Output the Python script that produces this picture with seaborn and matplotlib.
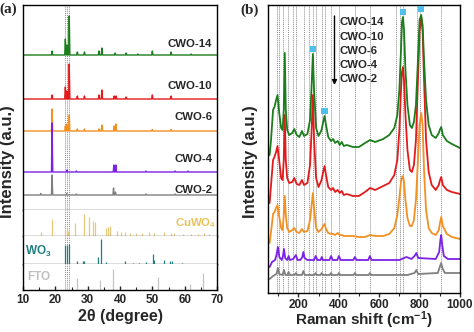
import numpy as np
import matplotlib
matplotlib.use("Agg")
import matplotlib.pyplot as plt
import seaborn as sns

sns.set_style("ticks")
plt.rcParams['font.family'] = ['Liberation Sans', 'DejaVu Sans']
plt.rcParams['font.weight'] = 'bold'
plt.rcParams['mathtext.fontset'] = 'custom'
plt.rcParams['mathtext.rm'] = 'Liberation Sans:bold'
plt.rcParams['mathtext.bf'] = 'Liberation Sans:bold'
plt.rcParams['mathtext.it'] = 'Liberation Sans:bold'
plt.rcParams['mathtext.default'] = 'rm'

# ---------------- Panel (a): XRD data ----------------
XRD_LABELS = ["CWO-14", "CWO-10", "CWO-6", "CWO-4", "CWO-2"]
XRD_COLORS = ["#1b7d1b", "#e31a1c", "#f39022", "#7b22e6", "#808080"]
XRD_OFFSETS = [155, 111, 79, 38, 15]
XRD_LABEL_Y = [166, 124, 93, 51, 20]

PEAKS_CWO14 = [19.0, 23.1, 23.6, 24.3, 26.8, 29.0, 33.5, 34.4, 38.5, 41.9, 45.5, 50.0, 55.8, 62.0]
HEIGHTS_CWO14 = [4, 16, 10, 39, 3, 3, 4, 7, 2, 2, 1, 4, 3, 1]
PEAKS_CWO10 = [19.0, 23.1, 23.6, 24.3, 26.8, 29.0, 33.5, 34.4, 38.2, 38.8, 41.9, 50.0, 55.8]
HEIGHTS_CWO10 = [4, 12, 8, 35, 3, 3, 4, 9, 3, 3, 2, 4, 3]
PEAKS_CWO6 = [19.0, 23.1, 23.6, 24.3, 26.8, 29.0, 33.5, 34.4, 38.2, 38.7, 50.0, 55.8]
HEIGHTS_CWO6 = [22, 5, 7, 16, 2, 2, 2, 6, 5, 7, 1.5, 1.5]
PEAKS_CWO4 = [19.0, 23.6, 26.5, 38.1, 38.7, 48.0, 57.0, 61.0]
HEIGHTS_CWO4 = [49, 2, 1, 7, 7, 1, 1, 1]
PEAKS_CWO2 = [15.5, 19.0, 23.5, 26.5, 38.0, 38.6, 48.0, 57.0, 61.0]
HEIGHTS_CWO2 = [1.5, 20, 1.5, 1, 7, 3, 1, 1, 1]

XRD_PEAKS = [PEAKS_CWO14, PEAKS_CWO10, PEAKS_CWO6, PEAKS_CWO4, PEAKS_CWO2]
XRD_HEIGHTS = [HEIGHTS_CWO14, HEIGHTS_CWO10, HEIGHTS_CWO6, HEIGHTS_CWO4, HEIGHTS_CWO2]

CUWO4_POS = [15.5, 19.0, 22.9, 23.5, 24.0, 26.1, 28.8, 30.3, 31.8, 32.3, 35.7, 36.4, 37.0,
             39.1, 40.4, 41.4, 43.0, 45.1, 46.8, 48.9, 50.4, 53.6, 55.9, 56.7, 59.4, 62.0,
             64.0, 66.0, 67.5]
CUWO4_INT = [4, 17, 6, 8, 5, 13, 22, 19, 15, 14, 8, 9, 10,
             5, 4, 4, 3, 3, 3, 4, 3, 4, 3, 3, 2, 2,
             2, 3, 2]
WO3_POS = [23.1, 23.6, 24.3, 26.6, 28.7, 29.0, 33.2, 34.2, 35.6, 41.7, 44.0, 46.0, 48.0,
           50.2, 50.6, 53.6, 55.5, 56.2, 59.2]
WO3_INT = [19, 19, 20, 3, 3, 3, 7, 25, 2, 3, 1.5, 1.5, 2,
           10, 4, 4, 3, 3, 1]
FTO_POS = [26.6, 33.8, 37.8, 51.7, 61.7, 65.7]
FTO_INT = [12, 10, 22, 14, 6, 18]
WO3_MARK_LINES = [23.1, 23.6, 24.3]

# ---------------- Panel (b): Raman data ----------------
RAMAN_X = [58, 65, 75, 82, 90, 97, 105, 115, 122, 128,
           133, 138, 145, 155, 170, 180, 192, 205, 218, 228,
           245, 258, 266, 272, 278, 288, 300, 315, 323, 330,
           337, 348, 362, 372, 382, 395, 405, 415, 425, 440,
           470, 500, 530, 555, 580, 620, 650, 675, 690, 700,
           708, 713, 718, 723, 730, 740, 752, 762, 772, 782,
           792, 800, 808, 815, 822, 832, 845, 860, 880, 895,
           900, 907, 915, 935, 960, 1000]
RAMAN_CWO14 = [138, 153, 183, 186, 193, 198, 181, 165, 163, 183,
               240, 183, 163, 158, 160, 164, 158, 156, 162, 157,
               159, 173, 208, 239, 203, 165, 157, 163, 171, 177,
               168, 156, 152, 154, 150, 152, 148, 151, 147, 148,
               146, 146, 150, 153, 151, 154, 158, 165, 178, 203,
               243, 271, 276, 263, 223, 188, 168, 165, 171, 188,
               233, 273, 278, 268, 233, 193, 168, 158, 155, 160,
               163, 166, 158, 152, 149, 145]
RAMAN_CWO10 = [90, 108, 133, 136, 141, 147, 133, 115, 113, 133,
               178, 133, 115, 110, 111, 115, 109, 108, 113, 108,
               110, 128, 163, 198, 153, 115, 106, 113, 121, 127,
               118, 106, 103, 105, 101, 103, 100, 102, 98, 99,
               97, 97, 101, 105, 103, 107, 110, 118, 133, 163,
               203, 221, 226, 213, 178, 143, 123, 121, 128, 153,
               213, 262, 276, 262, 213, 153, 121, 108, 103, 108,
               112, 116, 108, 103, 101, 99]
RAMAN_CWO6 = [50, 61, 79, 81, 85, 88, 77, 65, 63, 78,
              97, 78, 65, 61, 63, 65, 61, 60, 64, 61,
              62, 73, 88, 100, 85, 65, 61, 64, 67, 69,
              64, 60, 59, 59, 58, 60, 58, 58, 57, 57,
              57, 56, 56, 58, 57, 57, 59, 65, 78, 95,
              111, 116, 117, 111, 93, 75, 67, 67, 73, 93,
              133, 168, 180, 168, 123, 83, 65, 60, 58, 63,
              69, 76, 67, 59, 56, 54]
RAMAN_X_CWO4 = [58, 70, 85, 92, 99, 106, 118, 124, 129, 135, 145, 152, 158, 175, 188, 196,
                210, 220, 225, 231, 245, 278, 286, 294, 310, 316, 322, 354, 362, 370, 393,
                401, 409, 472, 480, 488, 546, 554, 562, 700, 735, 760, 775, 784, 793, 880,
                897, 903, 907, 912, 920, 940, 1000]
RAMAN_CWO4 = [26, 31, 33, 38, 46, 36, 33, 37, 44, 35, 33, 37, 33, 34, 38, 33,
              33, 36, 41, 35, 33, 33, 37, 33, 33, 36, 33, 33, 37, 33, 33,
              37, 33, 33, 36, 33, 33, 37, 33, 33, 36, 34, 37, 40, 35, 34,
              41, 53, 58, 48, 37, 34, 34]
RAMAN_X_CWO2 = [58, 75, 92, 99, 106, 122, 129, 136, 146, 152, 158, 182, 188, 196, 218, 225,
                232, 280, 286, 292, 310, 316, 322, 356, 362, 368, 395, 401, 407, 474, 480,
                486, 548, 554, 560, 740, 775, 784, 793, 890, 900, 907, 913, 925, 1000]
RAMAN_CWO2 = [14, 17, 19, 25, 19, 18, 23, 18, 18, 21, 18, 18, 20, 18, 18, 22,
              18, 18, 20, 18, 18, 20, 18, 18, 20, 18, 18, 20, 18, 18, 20,
              18, 18, 20, 18, 18, 20, 23, 19, 20, 26, 30, 25, 20, 20]
RAMAN_SERIES_X = [RAMAN_X_CWO2, RAMAN_X_CWO4, RAMAN_X, RAMAN_X, RAMAN_X]
RAMAN_SERIES_Y = [RAMAN_CWO2, RAMAN_CWO4, RAMAN_CWO6, RAMAN_CWO10, RAMAN_CWO14]
RAMAN_COLORS = ["#808080", "#7b22e6", "#f39022", "#e31a1c", "#1b7d1b"]
RAMAN_REF_LINES = [94, 102, 124, 150, 176, 190, 226, 255, 272, 288, 316, 330, 360, 400,
                   478, 553, 685, 703, 718, 785, 800, 907]
WO3_RAMAN_MARK_X = [272, 330, 718, 808]
WO3_RAMAN_MARK_Y = [244, 182, 281, 284]
LEGEND_Y = [271, 256, 242, 228, 214]

# ---------------- Figure ----------------
W, H = 474, 332
fig = plt.figure(figsize=(W / 100, H / 100), dpi=100)


def rect(l, t, r, b):
    return [l / W, 1 - b / H, (r - l) / W, (b - t) / H]


def stick_trace(pos, hts, base, lo=10, hi=70, w=0.2):
    xs, ys = [lo], [base]
    for p, h in sorted(zip(pos, hts)):
        xs += [p - w, p, p + w]
        ys += [base, base + h, base]
    xs.append(hi)
    ys.append(base)
    return xs, ys


ax_main = fig.add_axes(rect(23, 5, 217, 210))
ax_cu = fig.add_axes(rect(23, 210, 217, 236))
ax_wo = fig.add_axes(rect(23, 236, 217, 264))
ax_fto = fig.add_axes(rect(23, 264, 217, 290))
ax_b = fig.add_axes(rect(268, 5, 460, 293))

sep_col = "#555555"
dot_style = dict(color="#8c8c8c", linestyle=(0, (1, 1)), lw=0.7, zorder=0)

for ax in [ax_main, ax_cu, ax_wo, ax_fto]:
    ax.set_xlim(10, 70)
    ax.set_yticks([])
    for x in WO3_MARK_LINES:
        ax.axvline(x, **dot_style)
    for s in ax.spines.values():
        s.set_linewidth(1.0)
        s.set_color("black")

ax_main.set_ylim(0, 205)
for lab, col, off, pk, ht, ly in zip(XRD_LABELS, XRD_COLORS, XRD_OFFSETS, XRD_PEAKS,
                                     XRD_HEIGHTS, XRD_LABEL_Y):
    xs, ys = stick_trace(pk, ht, off)
    sns.lineplot(x=xs, y=ys, ax=ax_main, color=col, lw=1.0, sort=False, estimator=None)
    ax_main.text(0.975, ly, lab, transform=ax_main.get_yaxis_transform(),
                 ha="right", va="center", fontsize=8.2, fontweight="bold")

ax_cu.set_ylim(0, 26)
ax_cu.vlines(CUWO4_POS, 0, CUWO4_INT, color="#e8c97c", lw=0.9)
ax_cu.text(0.995, 13, "CuWO$_4$", transform=ax_cu.get_yaxis_transform(), ha="right",
           va="center", color="#e9c35a", fontsize=8.2, fontweight="bold")
ax_wo.set_ylim(0, 28)
ax_wo.vlines(WO3_POS, 0, WO3_INT, color="#1f7f80", lw=0.9)
ax_wo.text(0.01, 13, "WO$_3$", transform=ax_wo.get_yaxis_transform(), ha="left",
           va="center", color="#1f7f80", fontsize=8.5, fontweight="bold")
ax_fto.set_ylim(0, 27)
ax_fto.vlines(FTO_POS, 0, FTO_INT, color="#c4c4c4", lw=0.9)
ax_fto.text(0.02, 14, "FTO", transform=ax_fto.get_yaxis_transform(), ha="left",
            va="center", color="#c0c0c0", fontsize=8.5, fontweight="bold")

for ax in [ax_main, ax_cu, ax_wo]:
    ax.spines["bottom"].set_color(sep_col)
    ax.tick_params(axis="x", which="both", bottom=False, labelbottom=False)
for ax in [ax_cu, ax_wo, ax_fto]:
    ax.spines["top"].set_visible(False)

ax_fto.set_xticks(range(10, 71, 10))
ax_fto.set_xticks(range(15, 70, 10), minor=True)
ax_fto.tick_params(axis="x", which="major", direction="in", length=3, width=1,
                   labelsize=8.5, pad=3)
ax_fto.tick_params(axis="x", which="minor", direction="in", length=2, width=0.8)
for t in ax_fto.get_xticklabels():
    t.set_fontweight("bold")
ax_fto.set_xlabel("2\u03b8 (degree)", fontsize=11.5, fontweight="bold", labelpad=2)

# ---------------- Panel (b) ----------------
ax_b.set_xlim(50, 1000)
ax_b.set_ylim(0, 288)
ax_b.set_yticks([])
for x in RAMAN_REF_LINES:
    ax_b.axvline(x, **dot_style)
for xs, ys, col in zip(RAMAN_SERIES_X, RAMAN_SERIES_Y, RAMAN_COLORS):
    sns.lineplot(x=xs, y=ys, ax=ax_b, color=col, lw=1.3, sort=False, estimator=None)
sns.scatterplot(x=WO3_RAMAN_MARK_X, y=WO3_RAMAN_MARK_Y, ax=ax_b, marker="s", s=22,
                color="#4fc0ea", edgecolor="none", zorder=5)
ax_b.annotate("", xy=(379, 208), xytext=(379, 277),
              arrowprops=dict(arrowstyle="-|>", color="black", lw=1.0,
                              mutation_scale=7, shrinkA=0, shrinkB=0))
for lab, ly in zip(XRD_LABELS, LEGEND_Y):
    ax_b.text(402, ly, lab, ha="left", va="center", fontsize=8.2, fontweight="bold")
for s in ax_b.spines.values():
    s.set_linewidth(1.0)
    s.set_color("black")
ax_b.set_xticks(range(200, 1001, 200))
ax_b.set_xticks(range(100, 1000, 200), minor=True)
ax_b.tick_params(axis="x", which="major", direction="out", length=3, width=1,
                 labelsize=8.5, pad=1.5)
ax_b.tick_params(axis="x", which="minor", direction="out", length=2, width=0.8)
for t in ax_b.get_xticklabels():
    t.set_fontweight("bold")
ax_b.set_xlabel("Raman shift (cm$^{-1}$)", fontsize=11, fontweight="bold", labelpad=-1)

fig.text(8 / W, 1 - 162 / H, "Intensity (a.u.)", rotation=90, ha="center", va="center",
         fontsize=12, fontweight="bold")
fig.text(251 / W, 1 - 162 / H, "Intensity (a.u.)", rotation=90, ha="center", va="center",
         fontsize=12, fontweight="bold")
fig.text(8 / W, 1 - 9 / H, "(a)", ha="center", va="center", fontsize=11,
         fontweight="bold", family="Liberation Serif")
fig.text(250 / W, 1 - 10 / H, "(b)", ha="center", va="center", fontsize=11,
         fontweight="bold", family="Liberation Serif")

fig.savefig("out.png", dpi=100)
